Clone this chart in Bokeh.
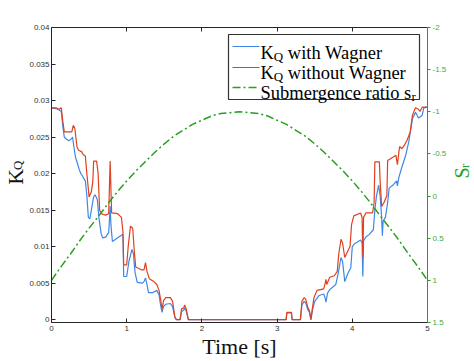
import numpy as np
from bokeh.plotting import figure
from bokeh.layouts import row
from bokeh.models import (Range1d, LinearAxis, FixedTicker, Label, BoxAnnotation, Arrow,
                          CustomJSTickFormatter)
from bokeh.embed import file_html
from bokeh.resources import INLINE

# ---- data ----
t_with = [0.00, 0.06, 0.10, 0.13, 0.15, 0.17, 0.20, 0.23, 0.26, 0.28, 0.30, 0.32, 0.35, 0.37, 0.39,
          0.41, 0.43, 0.45, 0.47, 0.49, 0.51, 0.53, 0.56, 0.58, 0.61, 0.63, 0.66, 0.68, 0.72, 0.76,
          0.77, 0.78, 0.79, 0.81, 0.88, 0.95, 0.96, 1.00, 1.03, 1.07, 1.09, 1.11, 1.14, 1.21, 1.23,
          1.25, 1.27, 1.29, 1.35, 1.40, 1.43, 1.45, 1.47, 1.49, 1.52, 1.58, 1.61, 1.64, 1.66, 1.71,
          1.73, 1.76, 1.77, 1.79, 1.82, 3.12, 3.13, 3.19, 3.20, 3.31, 3.33, 3.36, 3.38, 3.41, 3.43,
          3.45, 3.47, 3.50, 3.56, 3.62, 3.64, 3.65, 3.67, 3.70, 3.78, 3.81, 3.85, 3.87, 3.90, 3.94,
          3.98, 4.00, 4.03, 4.11, 4.13, 4.14, 4.15, 4.18, 4.22, 4.28, 4.30, 4.32, 4.35, 4.37, 4.39,
          4.40, 4.41, 4.44, 4.47, 4.49, 4.55, 4.59, 4.60, 4.62, 4.66, 4.71, 4.75, 4.78, 4.80, 4.84,
          4.88, 4.91, 4.93, 4.95, 5.00]
kq_with = [0.0290, 0.0289, 0.0287, 0.0285, 0.0265, 0.0250, 0.0247, 0.0245, 0.0247, 0.0250, 0.0235,
           0.0222, 0.0212, 0.0205, 0.0200, 0.0197, 0.0193, 0.0190, 0.0170, 0.0140, 0.0138, 0.0150,
           0.0168, 0.0171, 0.0164, 0.0140, 0.0118, 0.0112, 0.0113, 0.0119, 0.0135, 0.0155, 0.0130,
           0.0107, 0.0112, 0.0117, 0.0059, 0.0059, 0.0080, 0.0096, 0.0090, 0.0065, 0.0051, 0.0050,
           0.0052, 0.0057, 0.0048, 0.0037, 0.0037, 0.0040, 0.0034, 0.0020, 0.0010, 0.0018, 0.0021,
           0.0022, 0.0018, 0.0003, 0.0000, 0.0000, 0.0011, 0.0013, 0.0016, 0.0012, 0.0000, 0.0000,
           0.0009, 0.0009, 0.0000, 0.0000, 0.0020, 0.0025, 0.0023, 0.0013, 0.0010, 0.0000, 0.0013,
           0.0025, 0.0033, 0.0035, 0.0029, 0.0024, 0.0036, 0.0041, 0.0048, 0.0062, 0.0085, 0.0080,
           0.0052, 0.0063, 0.0071, 0.0100, 0.0104, 0.0109, 0.0105, 0.0059, 0.0108, 0.0113, 0.0116,
           0.0123, 0.0150, 0.0168, 0.0184, 0.0170, 0.0140, 0.0115, 0.0135, 0.0140, 0.0160, 0.0180,
           0.0185, 0.0190, 0.0183, 0.0195, 0.0209, 0.0225, 0.0243, 0.0262, 0.0275, 0.0284, 0.0276,
           0.0278, 0.0280, 0.0290, 0.0291]

t_without = [0.00, 0.06, 0.10, 0.13, 0.15, 0.17, 0.27, 0.29, 0.31, 0.34, 0.36, 0.40, 0.42, 0.45, 0.47,
             0.50, 0.53, 0.55, 0.56, 0.60, 0.62, 0.64, 0.66, 0.72, 0.76, 0.77, 0.78, 0.79, 0.80, 0.88,
             0.93, 0.95, 0.96, 1.00, 1.02, 1.05, 1.08, 1.10, 1.12, 1.20, 1.23, 1.25, 1.27, 1.30, 1.36,
             1.40, 1.43, 1.45, 1.47, 1.49, 1.52, 1.58, 1.61, 1.64, 1.66, 1.71, 1.73, 1.76, 1.77, 1.79,
             1.82, 3.12, 3.13, 3.19, 3.20, 3.31, 3.33, 3.36, 3.38, 3.41, 3.43, 3.45, 3.47, 3.49, 3.53,
             3.62, 3.64, 3.65, 3.66, 3.70, 3.76, 3.80, 3.82, 3.85, 3.87, 3.90, 3.93, 3.97, 3.99, 4.02,
             4.11, 4.13, 4.14, 4.15, 4.18, 4.27, 4.29, 4.30, 4.36, 4.37, 4.39, 4.42, 4.46, 4.47, 4.55,
             4.58, 4.60, 4.62, 4.63, 4.66, 4.70, 4.73, 4.77, 4.80, 4.84, 4.88, 4.90, 4.93, 5.00]
kq_without = [0.0290, 0.0290, 0.0288, 0.0290, 0.0272, 0.0257, 0.0257, 0.0266, 0.0262, 0.0236, 0.0232,
              0.0230, 0.0226, 0.0224, 0.0200, 0.0168, 0.0175, 0.0190, 0.0217, 0.0217, 0.0200, 0.0150,
              0.0145, 0.0143, 0.0145, 0.0180, 0.0217, 0.0180, 0.0146, 0.0145, 0.0140, 0.0120, 0.0075,
              0.0075, 0.0100, 0.0128, 0.0125, 0.0095, 0.0072, 0.0068, 0.0068, 0.0078, 0.0066, 0.0056,
              0.0052, 0.0048, 0.0040, 0.0028, 0.0014, 0.0026, 0.0030, 0.0030, 0.0025, 0.0004, 0.0000,
              0.0000, 0.0015, 0.0016, 0.0020, 0.0015, 0.0000, 0.0000, 0.0010, 0.0010, 0.0000, 0.0000,
              0.0025, 0.0030, 0.0028, 0.0016, 0.0012, 0.0000, 0.0016, 0.0030, 0.0040, 0.0042, 0.0050,
              0.0055, 0.0048, 0.0058, 0.0060, 0.0066, 0.0090, 0.0110, 0.0105, 0.0085, 0.0092, 0.0100,
              0.0130, 0.0142, 0.0146, 0.0140, 0.0085, 0.0140, 0.0146, 0.0146, 0.0160, 0.0216, 0.0216,
              0.0190, 0.0155, 0.0160, 0.0170, 0.0218, 0.0223, 0.0225, 0.0212, 0.0230, 0.0237, 0.0234,
              0.0240, 0.0246, 0.0257, 0.0280, 0.0290, 0.0288, 0.0285, 0.0291, 0.0291]

t_sr = [0.000, 0.125, 0.250, 0.375, 0.500, 0.625, 0.750, 0.875, 1.000, 1.125, 1.250, 1.375, 1.500,
        1.625, 1.750, 1.875, 2.000, 2.125, 2.250, 2.375, 2.500, 2.625, 2.750, 2.875, 3.000, 3.125,
        3.250, 3.375, 3.500, 3.625, 3.750, 3.875, 4.000, 4.125, 4.250, 4.375, 4.500, 4.625, 4.750,
        4.875, 5.000]
sr = [1.00, 0.84, 0.69, 0.53, 0.38, 0.24, 0.09, -0.05, -0.18, -0.30, -0.41, -0.52, -0.62, -0.71,
      -0.78, -0.85, -0.90, -0.95, -0.98, -0.99, -1.00, -0.99, -0.98, -0.95, -0.90, -0.85, -0.78,
      -0.71, -0.62, -0.52, -0.41, -0.30, -0.18, -0.05, 0.09, 0.24, 0.38, 0.53, 0.69, 0.84, 1.00]

x_ticks = [0, 1, 2, 3, 4, 5]
y_ticks = [0, 0.005, 0.01, 0.015, 0.02, 0.025, 0.03, 0.035, 0.04]
y_tick_labels = ["0", "0.005", "0.01", "0.015", "0.02", "0.025", "0.03", "0.035", "0.04"]
sr_ticks = [-2, -1.5, -1, -0.5, 0, 0.5, 1, 1.5]
sr_tick_labels = ["-2", "-1.5", "-1", "-0.5", "0", "0.5", "1", "1.5"]

x_title = "Time [s]"
y_title = ("K", "Q")
y2_title = ("S", "r")
legend_labels = [("K", "Q", "with Wagner"), ("K", "Q", "without Wagner"),
                 ("Submergence ratio s", "r", "")]

# ---- styles ----
BLUE = "#3f87e6"
RED = "#e0401f"
GREEN = "#2a9e1e"
AX = "#262626"
TXT = "#111111"
SERIF = "Liberation Serif"
SANS = "Liberation Sans"

H = 361
LEFT_W, RIGHT_W = 26, 25
MAIN_W = 474 - LEFT_W - RIGHT_W


def blank_fig(w, h):
    f = figure(width=w, height=h, x_range=Range1d(0, w), y_range=Range1d(0, h), title=None,
               min_border=0, toolbar_location=None, output_backend="svg",
               x_axis_location=None, y_axis_location=None)
    f.outline_line_color = None
    f.background_fill_color = "white"
    f.border_fill_color = "white"
    f.xgrid.visible = False
    f.ygrid.visible = False
    return f


p = figure(width=MAIN_W, height=H, min_border_left=51 - LEFT_W, min_border_right=22,
           min_border_top=27, min_border_bottom=38, output_backend="svg", toolbar_location=None,
           x_range=Range1d(0, 5), y_range=Range1d(-0.0004, 0.04), x_axis_location=None,
           y_axis_location=None)
p.extra_y_ranges = {"sr": Range1d(start=1.5, end=-2)}
p.xgrid.visible = False
p.ygrid.visible = False
p.outline_line_color = None
p.background_fill_color = "white"
p.border_fill_color = "white"

p.line(t_with, kq_with, color=BLUE, line_width=1.2)
p.line(t_without, kq_without, color=RED, line_width=1.2)
p.line(t_sr, sr, y_range_name="sr", color=GREEN, line_width=1.5, line_dash="8 3 2 3")


def style_axis(ax, color):
    ax.axis_line_color = color
    ax.major_tick_line_color = color
    ax.minor_tick_line_color = None
    ax.major_label_text_color = color
    ax.major_label_text_font = SANS
    ax.major_label_text_font_size = "8px"
    ax.axis_line_width = 1


xb = LinearAxis(ticker=FixedTicker(ticks=x_ticks))
style_axis(xb, AX)
xb.major_label_text_color = "#333333"
xb.major_tick_in = 4
xb.major_tick_out = 0
xb.major_label_standoff = 3
xb.axis_label = x_title
xb.axis_label_text_font = SERIF
xb.axis_label_text_font_size = "22px"
xb.axis_label_text_font_style = "normal"
xb.axis_label_text_color = TXT
xb.axis_label_standoff = 0
p.add_layout(xb, "below")

xt = LinearAxis(ticker=FixedTicker(ticks=x_ticks),
                formatter=CustomJSTickFormatter(code="return ''"))
style_axis(xt, AX)
xt.major_tick_in = 4
xt.major_tick_out = 0
xt.major_label_standoff = 0
p.add_layout(xt, "above")

yl = LinearAxis(ticker=FixedTicker(ticks=y_ticks))
style_axis(yl, AX)
yl.major_label_text_color = "#333333"
yl.major_tick_in = 4
yl.major_tick_out = 0
yl.major_label_standoff = 2
yl.major_label_overrides = dict(zip(y_ticks, y_tick_labels))
p.add_layout(yl, "left")

yr = LinearAxis(y_range_name="sr", ticker=FixedTicker(ticks=sr_ticks))
style_axis(yr, GREEN)
yr.major_label_text_color = "#45a83a"
yr.major_tick_in = 0
yr.major_tick_out = 3
yr.major_label_standoff = 2
yr.major_label_overrides = dict(zip(sr_ticks, sr_tick_labels))
p.add_layout(yr, "right")

# ---- legend (hand-built so the subscripts can be drawn) ----
p.add_layout(BoxAnnotation(left=177, right=368, bottom=223, top=288, left_units="screen",
                           right_units="screen", top_units="screen", bottom_units="screen",
                           fill_color="white", fill_alpha=1.0, line_color="#333333",
                           line_width=1.2, line_alpha=1.0))
row_line_y = [276, 255, 235]
row_base_y = [270, 250, 230]
row_colors = [BLUE, RED, GREEN]
row_dash = ["solid", "solid", "8 3 2 3"]
fs = 18.5
for i, (main, sub, rest) in enumerate(legend_labels):
    p.add_layout(Arrow(end=None, x_start=181, y_start=row_line_y[i], x_end=208, y_end=row_line_y[i],
                       start_units="screen", end_units="screen", line_color=row_colors[i],
                       line_width=1.5 if i == 2 else 1.2, line_dash=row_dash[i]))
    p.add_layout(Label(x=209, y=row_base_y[i], x_units="screen", y_units="screen", text=main,
                       text_font=SERIF, text_font_size=f"{fs}px", text_align="left",
                       text_baseline="alphabetic", text_color="black"))
    sx = 209 + (0.722 if main == "K" else 8.165) * fs
    p.add_layout(Label(x=sx, y=row_base_y[i] - 4, x_units="screen", y_units="screen", text=sub,
                       text_font=SERIF, text_font_size="13px", text_align="left",
                       text_baseline="alphabetic", text_color="black"))
    if rest:
        p.add_layout(Label(x=sx + 0.722 * 13 + 0.25 * fs, y=row_base_y[i], x_units="screen",
                           y_units="screen", text=rest, text_font=SERIF,
                           text_font_size=f"{fs}px", text_align="left",
                           text_baseline="alphabetic", text_color="black"))

# ---- vertical axis titles in narrow side panels (data units = pixels from bottom-left) ----
left = blank_fig(LEFT_W, H)
left.add_layout(Label(x=14.5, y=188, text=y_title[0], angle=np.pi / 2, text_font=SERIF,
                      text_font_size="22px", text_align="right", text_baseline="alphabetic",
                      text_color=TXT))
left.add_layout(Label(x=17, y=198, text=y_title[1], angle=np.pi / 2, text_font=SERIF,
                      text_font_size="13px", text_align="right", text_baseline="alphabetic",
                      text_color=TXT))

right = blank_fig(RIGHT_W, H)
right.add_layout(Label(x=12, y=183, text=y2_title[0], angle=np.pi / 2, text_font=SERIF,
                       text_font_size="20px", text_align="center", text_baseline="alphabetic",
                       text_color=GREEN))
right.add_layout(Label(x=15, y=189, text=y2_title[1], angle=np.pi / 2, text_font=SERIF,
                       text_font_size="13px", text_align="left", text_baseline="alphabetic",
                       text_color=GREEN))

layout = row(left, p, right, spacing=0)
open("out.html", "w").write(file_html(layout, INLINE))
